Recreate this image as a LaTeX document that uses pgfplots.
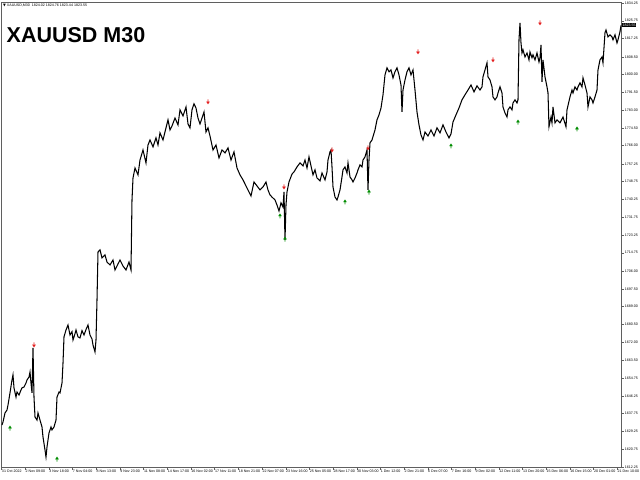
\documentclass[border=0pt]{standalone}
\usepackage{fontspec}
\setmainfont{Liberation Sans}
\newfontfamily\symfont{DejaVu Sans}
\usepackage{pgfplots}
\pgfplotsset{compat=1.18}
\definecolor{sigred}{RGB}{228,30,30}
\definecolor{siggreen}{RGB}{0,140,0}
\definecolor{frame}{RGB}{95,95,95}
\newcommand\tickfont{\fontsize{3.6bp}{4bp}\selectfont}

% small signal arrows
\pgfdeclareplotmark{dnarrow}{%
  \pgfpathrectangle{\pgfqpoint{-0.5pt}{0pt}}{\pgfqpoint{1pt}{2.6pt}}%
  \pgfpathmoveto{\pgfqpoint{-1.9pt}{0.4pt}}%
  \pgfpathlineto{\pgfqpoint{1.9pt}{0.4pt}}%
  \pgfpathlineto{\pgfqpoint{0pt}{-2.4pt}}%
  \pgfpathclose\pgfusepathqfill}
\pgfdeclareplotmark{uparrow}{%
  \pgfpathrectangle{\pgfqpoint{-0.5pt}{-2.6pt}}{\pgfqpoint{1pt}{2.6pt}}%
  \pgfpathmoveto{\pgfqpoint{-1.9pt}{-0.4pt}}%
  \pgfpathlineto{\pgfqpoint{1.9pt}{-0.4pt}}%
  \pgfpathlineto{\pgfqpoint{0pt}{2.4pt}}%
  \pgfpathclose\pgfusepathqfill}

\begin{document}
\begin{tikzpicture}
\begin{axis}[
  at={(0,0)}, anchor=south west,
  scale only axis, width=620bp, height=465bp,
  xmin=1.5, xmax=621.5,
  ymin=1612.25, ymax=1834.7,
  axis line style={frame, line width=0.6bp},
  xtick pos=lower, ytick pos=upper,
  xticklabel pos=lower, yticklabel pos=upper,
  tick align=outside, major tick length=2.5bp,
  tick style={frame, line width=0.4bp},
  xtick={1.5,25.2,48.9,72.5,96.2,119.9,143.6,167.3,190.9,214.6,238.3,262.0,285.7,309.3,333.0,356.7,380.4,404.1,427.7,451.4,475.1,498.8,522.5,546.1,569.8,593.5,617.2},
  xticklabels={31 Oct 2022,2 Nov 09:00,3 Nov 18:00,7 Nov 04:00,8 Nov 13:00,9 Nov 23:00,11 Nov 08:00,14 Nov 17:00,16 Nov 02:00,17 Nov 11:00,18 Nov 21:00,22 Nov 07:00,23 Nov 16:00,25 Nov 05:00,28 Nov 17:00,30 Nov 03:00,1 Dec 12:00,2 Dec 21:00,6 Dec 07:00,7 Dec 16:00,9 Dec 02:00,12 Dec 11:00,13 Dec 20:00,15 Dec 06:00,16 Dec 15:00,20 Dec 01:00,21 Dec 10:00},
  ytick={1612.25,1620.75,1629.25,1637.75,1646.25,1654.75,1663.50,1672.00,1680.50,1689.00,1697.50,1706.00,1714.75,1723.25,1731.75,1740.25,1748.75,1757.25,1766.00,1774.50,1783.00,1791.50,1800.00,1808.50,1817.25,1825.75,1834.25},
  yticklabels={1612.25,1620.75,1629.25,1637.75,1646.25,1654.75,1663.50,1672.00,1680.50,1689.00,1697.50,1706.00,1714.75,1723.25,1731.75,1740.25,1748.75,1757.25,1766.00,1774.50,1783.00,1791.50,1800.00,1808.50,1817.25,1825.75,1834.25},
  xticklabel style={font=\tickfont, anchor=north west, inner sep=0.6bp, xshift=-0.3bp},
  yticklabel style={font=\tickfont, anchor=west, inner sep=0.6bp},
]
% price path (M30 closes)
\addplot[black, line width=1.05bp, line join=miter] table {
2 1632.3
3 1633.8
5 1638.1
7 1639.5
8 1641.9
10 1647.7
12 1653.9
13 1656.3
14 1650.1
16 1645.7
17 1648.1
19 1646.7
21 1649.1
22 1650.1
24 1650.5
26 1652.4
27 1653.9
29 1655.3
30 1657.7
31 1652.4
32 1647.7
33 1669.2
34 1645.7
35 1636.2
37 1634.7
38 1638.1
40 1634.7
42 1631.4
43 1626.6
45 1620.4
46 1617.0
47 1621.8
49 1628.5
51 1631.4
52 1630.0
54 1631.4
56 1634.7
57 1645.7
59 1648.1
60 1647.7
62 1652.4
63 1662.0
64 1674.5
66 1677.8
68 1680.2
70 1675.4
72 1677.0
73 1673.0
75 1676.0
76 1677.8
78 1674.5
80 1674.0
82 1677.5
84 1675.4
86 1678.0
88 1680.2
90 1675.4
92 1673.5
93 1670.6
95 1667.3
96 1673.0
97 1692.2
98 1715.1
100 1716.1
102 1712.3
105 1713.7
107 1710.3
110 1708.9
113 1711.3
115 1706.5
118 1709.4
120 1711.3
123 1708.4
126 1706.5
129 1710.3
131 1706.5
132 1740.0
133 1750.5
135 1755.3
138 1752.0
140 1759.1
143 1763.9
146 1757.7
148 1766.3
150 1768.7
153 1765.4
156 1769.7
158 1766.3
160 1772.1
163 1768.7
166 1774.5
168 1778.3
170 1773.5
172 1775.4
175 1779.2
178 1775.9
180 1783.1
183 1780.2
186 1784.5
188 1776.4
190 1774.5
192 1783.1
194 1786.0
196 1784.0
198 1779.2
200 1776.4
202 1779.2
204 1782.1
206 1772.5
208 1774.5
210 1770.6
213 1763.9
216 1766.3
219 1760.1
222 1763.9
225 1762.5
228 1764.9
231 1759.1
234 1763.0
237 1755.3
240 1752.0
243 1749.6
246 1746.7
249 1743.8
251 1741.9
254 1748.6
257 1746.7
260 1744.8
263 1746.2
266 1748.6
268 1744.8
270 1742.4
272 1741.4
275 1740.0
277 1737.6
279 1734.7
281 1738.6
283 1736.6
284 1743.8
285 1720.9
286 1737.6
287 1743.8
289 1748.6
292 1752.4
294 1753.4
297 1755.8
300 1757.7
303 1756.3
305 1759.1
307 1755.3
309 1760.6
311 1756.3
313 1752.0
315 1754.4
317 1750.5
320 1749.1
322 1752.9
325 1749.6
327 1753.4
328 1759.1
330 1763.0
331 1763.9
332 1755.8
333 1746.2
335 1741.4
337 1740.0
338 1741.4
340 1744.8
342 1751.0
343 1754.4
345 1755.8
347 1752.9
348 1757.7
350 1751.0
352 1749.6
353 1748.6
355 1750.5
357 1752.9
358 1754.4
360 1756.8
362 1755.8
363 1759.1
365 1760.6
367 1763.9
368 1744.8
369 1759.1
370 1767.3
372 1768.7
375 1773.5
377 1778.3
379 1780.7
381 1784.0
383 1790.3
385 1799.8
387 1803.2
389 1801.3
391 1802.2
393 1798.4
395 1801.3
397 1803.2
399 1799.8
401 1795.0
402 1782.1
403 1792.6
405 1797.4
407 1801.3
409 1803.2
411 1799.8
413 1802.2
415 1792.6
417 1782.1
419 1775.9
421 1771.1
423 1768.7
425 1772.5
428 1770.6
431 1773.5
434 1770.6
437 1774.5
440 1772.1
443 1775.9
446 1772.5
449 1769.7
451 1771.6
453 1777.3
456 1780.7
459 1784.0
462 1787.9
465 1790.3
468 1792.6
471 1795.0
474 1791.7
477 1794.6
480 1792.6
482 1794.1
483 1798.9
485 1802.2
487 1805.6
488 1798.9
490 1797.4
492 1794.1
493 1789.3
495 1787.9
497 1789.3
498 1791.2
500 1794.1
502 1791.2
503 1784.5
505 1781.6
507 1779.7
508 1783.1
510 1784.5
512 1783.1
513 1786.4
515 1787.9
517 1786.4
518 1787.9
519 1816.6
520 1824.7
521 1815.1
522 1810.3
523 1811.8
525 1808.4
527 1810.3
529 1807.0
530 1810.8
532 1808.0
533 1809.4
535 1807.0
537 1810.3
539 1806.0
540 1808.0
541 1814.2
542 1796.5
543 1807.0
545 1798.9
547 1794.1
548 1791.2
549 1775.0
551 1779.7
552 1776.9
553 1784.5
555 1776.9
557 1778.3
560 1776.9
563 1779.7
566 1775.0
567 1783.1
570 1789.3
572 1792.6
573 1791.2
575 1794.1
577 1792.6
578 1794.1
580 1796.0
582 1794.1
583 1798.4
585 1795.0
587 1791.2
588 1784.5
590 1789.3
592 1787.9
593 1786.4
595 1789.3
597 1792.6
598 1802.2
600 1807.0
602 1808.4
603 1805.6
605 1820.0
606 1821.3
608 1818.0
610 1819.0
612 1818.0
613 1816.6
615 1819.0
617 1815.1
618 1816.6
620 1820.5
621 1823.5
};
% sell signals
\addplot[only marks, mark=dnarrow, color=sigred] coordinates {
(34,1670.6) (208,1786.9) (284,1746.2) (332,1763.9) (368,1764.9) (418,1810.8) (493,1807.0) (540,1824.7)
};
% buy signals
\addplot[only marks, mark=uparrow, color=siggreen] coordinates {
(10,1630.9) (57,1616.1) (280,1732.4) (285,1721.3) (345,1739.1) (369,1743.8) (451,1765.9) (518,1777.3) (577,1774.0)
};
\coordinate (pb) at (axis cs:621.5,1823.55);
\end{axis}
\node[anchor=west, fill=black, text=white, font=\tickfont, inner sep=0.8bp] at (pb) {1823.55};
\node[anchor=base west, inner sep=0pt, font=\tickfont] at (1.5bp,460.5bp) {{\symfont ▼} XAUUSD,M30\ \ 1824.02 1824.76 1823.44 1823.55};
\node[anchor=base west, inner sep=0pt, font=\fontsize{21.5bp}{24bp}\selectfont\bfseries] at (5bp,424bp) {XAUUSD M30};
\pgfresetboundingbox
\path (-1.5bp,-13bp) rectangle (638.5bp,467bp);
\end{tikzpicture}
\end{document}
